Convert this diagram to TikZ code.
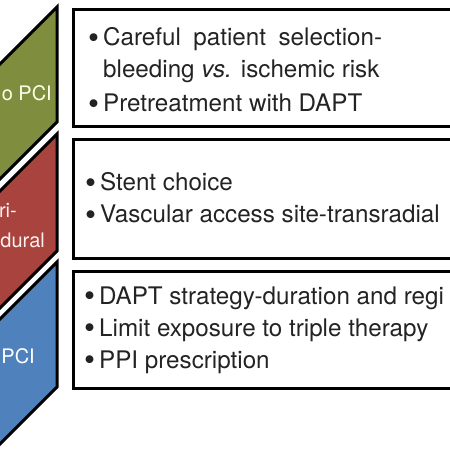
\documentclass[tikz,border=0pt]{standalone}
\usepackage{fontspec}
\setmainfont{TeX Gyre Heros}
\usepackage{tikz}
\usetikzlibrary{positioning}

\definecolor{prepci}{RGB}{126,141,62}
\definecolor{peripci}{RGB}{168,67,62}
\definecolor{postpci}{RGB}{79,129,189}
\definecolor{txtgray}{RGB}{35,35,35}

\newcommand{\bul}{\makebox[15pt][l]{\raisebox{-2.6pt}{\scalebox{1.3}{\textbullet}}}}
\newcommand{\ind}{\hspace*{15pt}}

\begin{document}
\begin{tikzpicture}[x=1pt, y=-1pt,
    panel/.style={rectangle, draw, line width=3pt, minimum width=400pt, anchor=north west, inner sep=0pt},
    items/.style={anchor=west, align=left, text=txtgray, font=\fontsize{24.2}{32}\selectfont, inner sep=0pt},
    chev/.style={draw, line width=3pt, line join=miter},
    tag/.style={anchor=base east, text=white, font=\fontsize{20}{24}\selectfont, inner sep=0pt},
]
    \useasboundingbox (0,0) rectangle (450,450);
    \clip (0,0) rectangle (450,450);

    % Chevrons
    \draw[chev, fill=prepci] (-60,124) -- (57,7) -- (57,122) -- (-60,239) -- cycle;
    \draw[chev, fill=peripci] (-60,251) -- (57,134) -- (57,251) -- (-60,368) -- cycle;
    \draw[chev, fill=postpci] (-60,379) -- (57,262) -- (57,387) -- (-60,504) -- cycle;

    \node[tag, text=yellow!8] (pre) at (52,100) {o PCI};
    \node[tag, text=red!6] (peri) at (17,217) {ri-};
    \node[tag, text=red!6] (peridur) at (45,247) {dural};
    \node[tag] (post) at (35,363) {PCI};

    % Panels
    \node[panel, minimum height=117pt] (box1) at (72,8) {};
    \node[panel, minimum height=119pt] (box2) at (72,138) {};
    \node[panel, minimum height=117pt] (box3) at (72,270) {};

    \node[items] (list1) at ([xshift=16pt, yshift=-3pt]box1.west)
        {\bul \makebox[279pt][s]{Careful patient selection-}\\ \ind bleeding \textit{vs.} ischemic risk\\[2pt] \bul Pretreatment with DAPT};
    \node[items] (list2) at ([xshift=13pt]box2.west)
        {\bul Stent choice\\ \bul Vascular access site-transradial};
    \node[items] (list3) at ([xshift=12pt]box3.west)
        {\bul DAPT strategy-duration and regi\\ \bul Limit exposure to triple therapy\\ \bul PPI prescription};

\end{tikzpicture}
\end{document}
